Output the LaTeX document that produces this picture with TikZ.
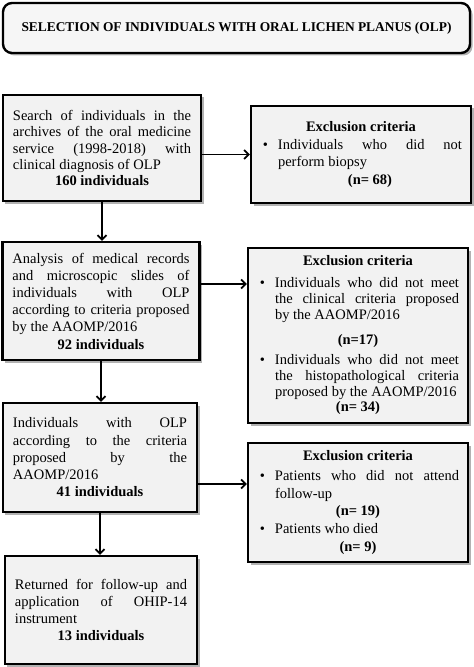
\documentclass[tikz,border=0pt]{standalone}
\usepackage{fontspec}
\setmainfont{Liberation Serif}
\usetikzlibrary{arrows.meta,shadows}
\setlength{\parindent}{0pt}
\definecolor{boxgray}{RGB}{242,242,242}
\newcommand\boxfont[1]{\fontsize{14.5bp}{#1bp}\selectfont\tolerance=10000\hbadness=10000\hyphenpenalty=10000\exhyphenpenalty=10000\relax}
\tikzset{
  myshadow/.style={drop shadow={shadow xshift=2.5bp, shadow yshift=-2.5bp, fill=black!55, opacity=0.55}},
  flowbox/.style={draw=black, line width=2.4bp, fill=boxgray, inner xsep=10bp, inner ysep=0bp, align=justify, myshadow},
  exbox/.style={draw=black, line width=2.4bp, fill=boxgray, inner xsep=0bp, inner ysep=0bp, text width=220bp, align=justify, myshadow},
  titlebox/.style={draw=black, line width=2.4bp, fill=boxgray!70, rounded corners=9bp, minimum width=467bp, minimum height=50bp, inner sep=0bp, font=\fontsize{13.4bp}{16bp}\selectfont\bfseries, myshadow},
  arr/.style={line width=1.8bp, -{Straight Barb[length=4.5bp,width=9bp]}},
}
\begin{document}
\begin{tikzpicture}[x=1bp,y=-1bp]
\useasboundingbox (0,0) rectangle (474,667);

\node[titlebox] (t) at (236.5,28) {SELECTION OF INDIVIDUALS WITH ORAL LICHEN PLANUS (OLP)};

\node[flowbox, text width=178bp, minimum height=106bp, font=\boxfont{16.3}] (b1) at (102,148)
{Search of individuals in the\linebreak archives of the oral medicine\linebreak service (1998-2018) with\linebreak clinical diagnosis of OLP\par
{\centering\textbf{160 individuals}\par}};

\node[flowbox, text width=177bp, minimum height=118bp, font=\boxfont{17.2}] (b2) at (101,301)
{Analysis of medical records\linebreak and microscopic slides of\linebreak individuals with OLP\linebreak according to criteria proposed\linebreak by the AAOMP/2016\par
{\centering\textbf{92 individuals}\par}};

\node[flowbox, text width=174bp, minimum height=109bp, font=\boxfont{17.25}] (b3) at (100,457.5)
{Individuals with OLP\linebreak according to the criteria\linebreak proposed by the\linebreak AAOMP/2016\par
{\centering\textbf{41 individuals}\par}};

\node[flowbox, text width=172bp, minimum height=108bp, font=\boxfont{17}] (b4) at (101,610)
{Returned for follow-up and\linebreak application of OHIP-14\linebreak instrument\par
{\centering\textbf{13 individuals}\par}};

\node[exbox, minimum height=97bp, font=\boxfont{17.7}] (e1) at (361,154.5)
{{\centering\textbf{Exclusion criteria}\par}
{\leftskip=27bp\rightskip=9bp\leavevmode\llap{\textbullet\hspace{10bp}}Individuals who did not\linebreak perform biopsy\par}
{\leftskip=27bp plus 1fil\rightskip=9bp plus 1fil\parfillskip=0pt\textbf{(n= 68)}\par}};

\node[exbox, minimum height=175bp, font=\boxfont{16}] (e2) at (358,335.5)
{{\centering\textbf{Exclusion criteria}\par}
\vspace{6bp}
{\leftskip=27bp\rightskip=9bp\leavevmode\llap{\textbullet\hspace{10bp}}Individuals who did not meet\linebreak the clinical criteria proposed\linebreak by the AAOMP/2016\par}
\vspace{9bp}
{\centering\textbf{(n=17)}\par}
\vspace{4bp}
{\leftskip=27bp\rightskip=9bp\leavevmode\llap{\textbullet\hspace{10bp}}Individuals who did not meet\linebreak the histopathological criteria\linebreak proposed by the AAOMP/2016\par}
\vspace{-1bp}
{\centering\textbf{(n= 34)}\par}};

\node[exbox, minimum height=119bp, font=\boxfont{17.8}] (e3) at (358,502.5)
{{\centering\textbf{Exclusion criteria}\par}
\vspace{2bp}
{\leftskip=27bp\rightskip=9bp\leavevmode\llap{\textbullet\hspace{10bp}}Patients who did not attend\linebreak follow-up\par}
{\centering\textbf{(n= 19)}\par}
{\leftskip=27bp\rightskip=9bp\leavevmode\llap{\textbullet\hspace{10bp}}Patients who died\par}
{\centering\textbf{(n= 9)}\par}};

\coordinate (a2) at (0,284);
\coordinate (a3) at (0,484);

\draw[arr] (b1.south) -- (b1.south |- b2.north);
\draw[arr] (b2.south) -- (b2.south |- b3.north);
\draw[arr] (b3.south) -- (b3.south |- b4.north);
\draw[arr] (b1.east |- e1.west) -- (e1.west);
\draw[arr] (b2.east |- a2) -- (e2.west |- a2);
\draw[arr] (b3.east |- a3) -- (e3.west |- a3);
\end{tikzpicture}
\end{document}
